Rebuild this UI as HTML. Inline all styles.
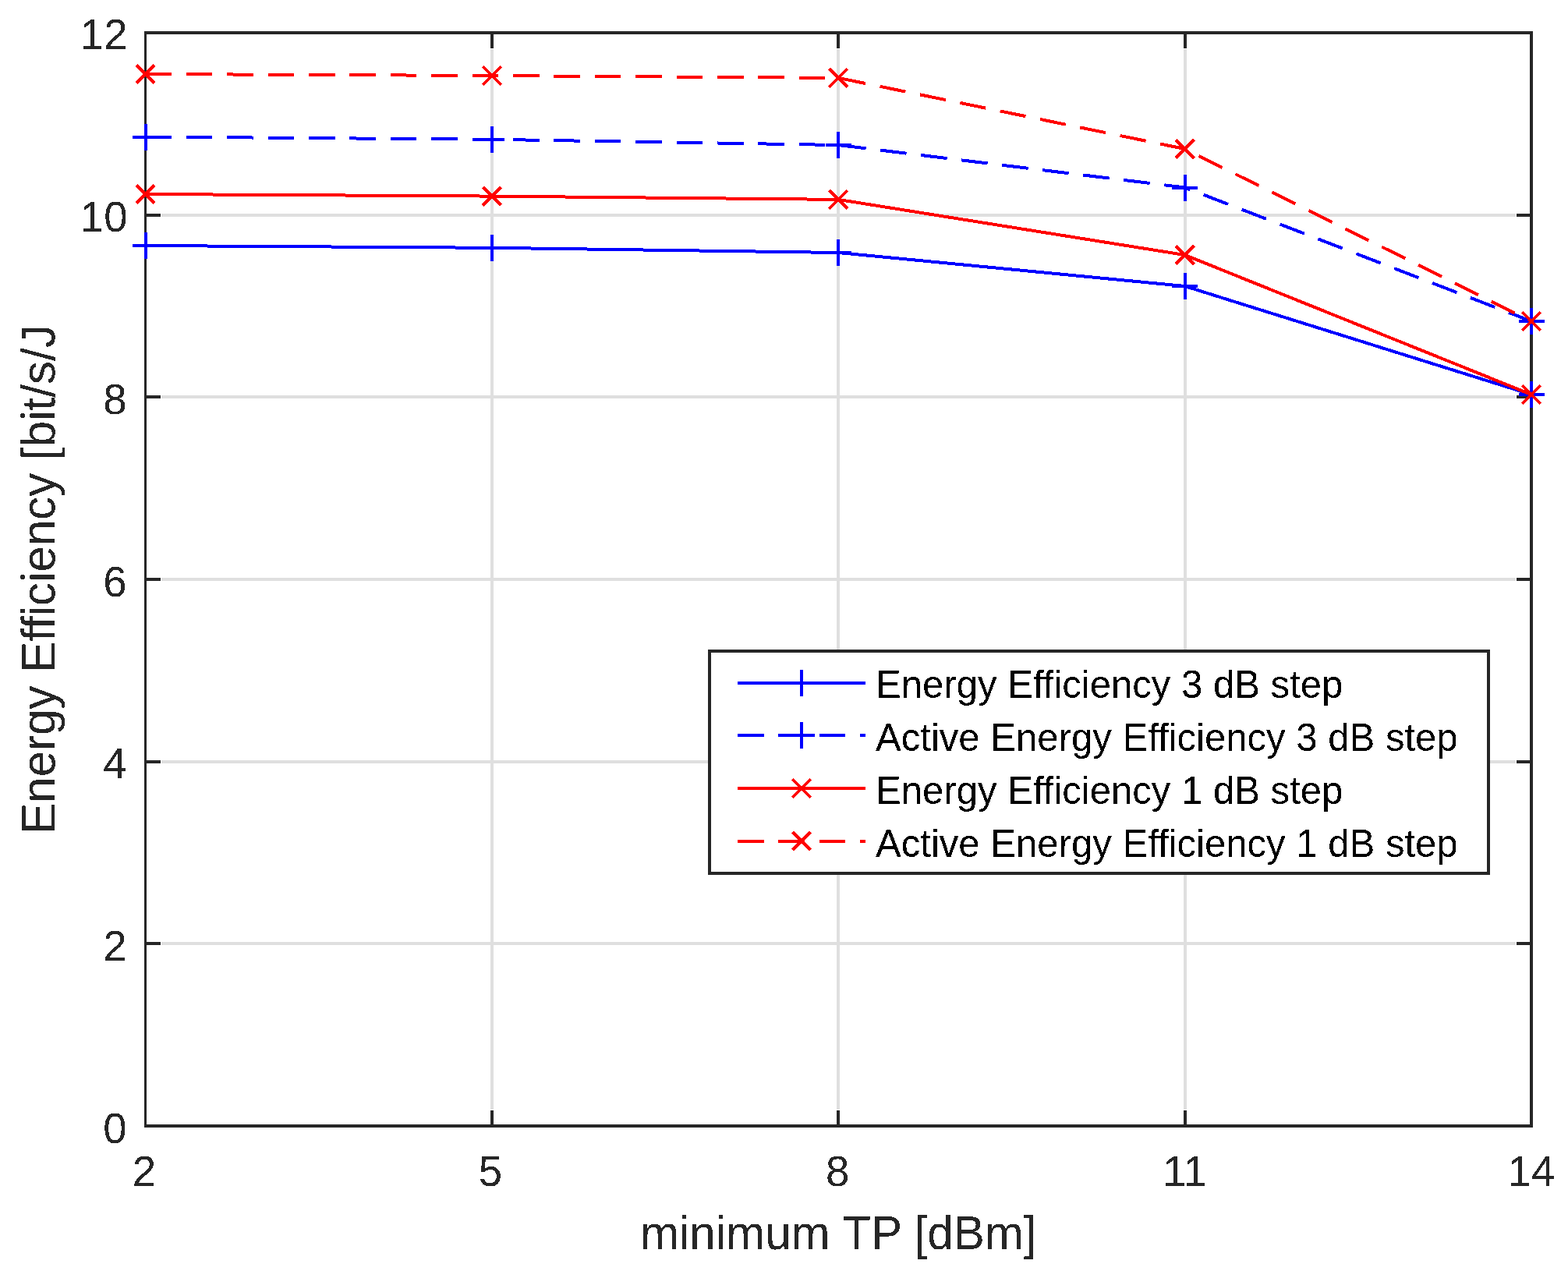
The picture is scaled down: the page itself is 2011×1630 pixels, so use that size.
<!DOCTYPE html><html><head><meta charset="utf-8"><title>Energy Efficiency vs minimum TP</title><style>html,body{margin:0;padding:0;background:#fff;overflow:hidden;}svg{display:block;}text{font-family:"Liberation Sans",Arial,Helvetica,sans-serif;}</style></head><body>
<svg xmlns="http://www.w3.org/2000/svg" width="2011" height="1630" viewBox="0 0 2011 1630">
<defs><filter id="alias" x="0" y="0" width="2011" height="1630" filterUnits="userSpaceOnUse" color-interpolation-filters="sRGB"><feComponentTransfer><feFuncA type="discrete" tableValues="0 1"/></feComponentTransfer></filter></defs>
<rect x="0" y="0" width="2011" height="1630" fill="#ffffff"/>
<path d="M630.88 63V1423M1075.25 63V1423M1519.62 63V1423M207 1210.33H1944M207 976.67H1944M207 743.00H1944M207 509.33H1944M207 275.67H1944" stroke="#dfdfdf" stroke-width="4" fill="none" shape-rendering="crispEdges"/>
<path d="M630.88 1444.0V1424.0M630.88 42.0V62.0M1075.25 1444.0V1424.0M1075.25 42.0V62.0M1519.62 1444.0V1424.0M1519.62 42.0V62.0M186.5 1210.33H206M1964.0 1210.33H1945M186.5 976.67H206M1964.0 976.67H1945M186.5 743.00H206M1964.0 743.00H1945M186.5 509.33H206M1964.0 509.33H1945M186.5 275.67H206M1964.0 275.67H1945" stroke="#262626" stroke-width="4" fill="none" shape-rendering="crispEdges"/>
<path d="M185 40h3v1406h-3zM1962 40h4v1406h-4zM185 40h1781v4h-1781zM185 1442h1781v4h-1781z" fill="#262626"/>
<polyline points="186.50,315.00 630.88,317.80 1075.25,324.00 1519.62,367.00 1964.00,506.00" stroke="#0000ff" stroke-width="4.0" fill="none" shape-rendering="crispEdges"/>
<path d="M170.00 315.00H203.00M186.50 298.00V332.00" stroke="#0000ff" stroke-width="4.0" fill="none" shape-rendering="crispEdges"/>
<path d="M614.38 317.80H647.38M630.88 300.80V334.80" stroke="#0000ff" stroke-width="4.0" fill="none" shape-rendering="crispEdges"/>
<path d="M1058.75 324.00H1091.75M1075.25 307.00V341.00" stroke="#0000ff" stroke-width="4.0" fill="none" shape-rendering="crispEdges"/>
<path d="M1503.12 367.00H1536.12M1519.62 350.00V384.00" stroke="#0000ff" stroke-width="4.0" fill="none" shape-rendering="crispEdges"/>
<path d="M1947.50 506.00H1980.50M1964.00 489.00V523.00" stroke="#0000ff" stroke-width="4.0" fill="none" shape-rendering="crispEdges"/>
<polyline points="186.50,175.50 630.88,178.80 1075.25,186.00 1519.62,240.50 1964.00,412.00" stroke="#0000ff" stroke-width="4.0" fill="none" stroke-dasharray="33.6 18.8" shape-rendering="crispEdges"/>
<path d="M170.00 175.50H203.00M186.50 158.50V192.50" stroke="#0000ff" stroke-width="4.0" fill="none" shape-rendering="crispEdges"/>
<path d="M614.38 178.80H647.38M630.88 161.80V195.80" stroke="#0000ff" stroke-width="4.0" fill="none" shape-rendering="crispEdges"/>
<path d="M1058.75 186.00H1091.75M1075.25 169.00V203.00" stroke="#0000ff" stroke-width="4.0" fill="none" shape-rendering="crispEdges"/>
<path d="M1503.12 240.50H1536.12M1519.62 223.50V257.50" stroke="#0000ff" stroke-width="4.0" fill="none" shape-rendering="crispEdges"/>
<path d="M1947.50 412.00H1980.50M1964.00 395.00V429.00" stroke="#0000ff" stroke-width="4.0" fill="none" shape-rendering="crispEdges"/>
<polyline points="186.50,249.00 630.88,251.60 1075.25,255.90 1519.62,327.00 1964.00,506.00" stroke="#ff0000" stroke-width="4.0" fill="none" shape-rendering="crispEdges"/>
<path d="M174.80 237.30L198.20 260.70M174.80 260.70L198.20 237.30" stroke="#ff0000" stroke-width="4.0" stroke-linecap="butt" fill="none" shape-rendering="crispEdges"/>
<path d="M619.17 239.90L642.58 263.30M619.17 263.30L642.58 239.90" stroke="#ff0000" stroke-width="4.0" stroke-linecap="butt" fill="none" shape-rendering="crispEdges"/>
<path d="M1063.55 244.20L1086.95 267.60M1063.55 267.60L1086.95 244.20" stroke="#ff0000" stroke-width="4.0" stroke-linecap="butt" fill="none" shape-rendering="crispEdges"/>
<path d="M1507.92 315.30L1531.33 338.70M1507.92 338.70L1531.33 315.30" stroke="#ff0000" stroke-width="4.0" stroke-linecap="butt" fill="none" shape-rendering="crispEdges"/>
<path d="M1952.30 494.30L1975.70 517.70M1952.30 517.70L1975.70 494.30" stroke="#ff0000" stroke-width="4.0" stroke-linecap="butt" fill="none" shape-rendering="crispEdges"/>
<polyline points="186.50,95.00 630.88,97.00 1075.25,99.90 1519.62,191.00 1964.00,412.00" stroke="#ff0000" stroke-width="4.0" fill="none" stroke-dasharray="33.6 18.8" shape-rendering="crispEdges"/>
<path d="M174.80 83.30L198.20 106.70M174.80 106.70L198.20 83.30" stroke="#ff0000" stroke-width="4.0" stroke-linecap="butt" fill="none" shape-rendering="crispEdges"/>
<path d="M619.17 85.30L642.58 108.70M619.17 108.70L642.58 85.30" stroke="#ff0000" stroke-width="4.0" stroke-linecap="butt" fill="none" shape-rendering="crispEdges"/>
<path d="M1063.55 88.20L1086.95 111.60M1063.55 111.60L1086.95 88.20" stroke="#ff0000" stroke-width="4.0" stroke-linecap="butt" fill="none" shape-rendering="crispEdges"/>
<path d="M1507.92 179.30L1531.33 202.70M1507.92 202.70L1531.33 179.30" stroke="#ff0000" stroke-width="4.0" stroke-linecap="butt" fill="none" shape-rendering="crispEdges"/>
<path d="M1952.30 400.30L1975.70 423.70M1952.30 423.70L1975.70 400.30" stroke="#ff0000" stroke-width="4.0" stroke-linecap="butt" fill="none" shape-rendering="crispEdges"/>
<g filter="url(#alias)">
<text x="185.00" y="0" transform="translate(0 1521) scale(1 1.0)" font-size="54.6" fill="#262626" text-anchor="middle">2</text>
<text x="628.88" y="0" transform="translate(0 1521) scale(1 1.0)" font-size="54.6" fill="#262626" text-anchor="middle">5</text>
<text x="1074.25" y="0" transform="translate(0 1521) scale(1 1.0)" font-size="54.6" fill="#262626" text-anchor="middle">8</text>
<text x="1519.62" y="0" transform="translate(0 1521) scale(1 1.0)" font-size="54.6" fill="#262626" text-anchor="middle">11</text>
<text x="1964.00" y="0" transform="translate(0 1521) scale(1 1.0)" font-size="54.6" fill="#262626" text-anchor="middle">14</text>
<text x="162.5" y="0" transform="translate(0 1465.80) scale(1 1.0)" font-size="54.6" fill="#262626" text-anchor="end">0</text>
<text x="162.5" y="0" transform="translate(0 1232.13) scale(1 1.0)" font-size="54.6" fill="#262626" text-anchor="end">2</text>
<text x="162.5" y="0" transform="translate(0 998.47) scale(1 1.0)" font-size="54.6" fill="#262626" text-anchor="end">4</text>
<text x="162.5" y="0" transform="translate(0 764.80) scale(1 1.0)" font-size="54.6" fill="#262626" text-anchor="end">6</text>
<text x="162.5" y="0" transform="translate(0 531.13) scale(1 1.0)" font-size="54.6" fill="#262626" text-anchor="end">8</text>
<text x="163.5" y="0" transform="translate(0 297.47) scale(1 1.0)" font-size="54.6" fill="#262626" text-anchor="end">10</text>
<text x="163.5" y="0" transform="translate(0 63.00) scale(1 1.0)" font-size="54.6" fill="#262626" text-anchor="end">12</text>
<text x="1075.25" y="0" transform="translate(0 1602) scale(1 1.03)" font-size="60.1" fill="#262626" text-anchor="middle">minimum TP [dBm]</text>
<text x="0" y="0" transform="translate(70 743.00) rotate(-90) scale(1 1.03)" font-size="60.1" fill="#262626" text-anchor="middle">Energy Efficiency [bit/s/J</text>
</g>
<rect x="910" y="835" width="999" height="285" fill="#ffffff" stroke="#262626" stroke-width="3.8" shape-rendering="crispEdges"/>
<path d="M946 876.0H1110" stroke="#0000ff" stroke-width="4.0" fill="none" shape-rendering="crispEdges"/>
<path d="M1011.50 876.00H1044.50M1028.00 859.00V893.00" stroke="#0000ff" stroke-width="4.0" fill="none" shape-rendering="crispEdges"/>
<path d="M946 943.0H1110" stroke="#0000ff" stroke-width="4.0" fill="none" stroke-dasharray="33.6 18.8" shape-rendering="crispEdges"/>
<path d="M1011.50 943.00H1044.50M1028.00 926.00V960.00" stroke="#0000ff" stroke-width="4.0" fill="none" shape-rendering="crispEdges"/>
<path d="M946 1011.0H1110" stroke="#ff0000" stroke-width="4.0" fill="none" shape-rendering="crispEdges"/>
<path d="M1016.30 999.30L1039.70 1022.70M1016.30 1022.70L1039.70 999.30" stroke="#ff0000" stroke-width="4.0" stroke-linecap="butt" fill="none" shape-rendering="crispEdges"/>
<path d="M946 1078.6H1110" stroke="#ff0000" stroke-width="4.0" fill="none" stroke-dasharray="33.6 18.8" shape-rendering="crispEdges"/>
<path d="M1016.30 1066.90L1039.70 1090.30M1016.30 1090.30L1039.70 1066.90" stroke="#ff0000" stroke-width="4.0" stroke-linecap="butt" fill="none" shape-rendering="crispEdges"/>
<g filter="url(#alias)">
<text x="1123" y="0" transform="translate(0 894.7) scale(1 1.03)" font-size="49.1" fill="#000000">Energy Efficiency 3 dB step</text>
<text x="1123" y="0" transform="translate(0 962.9) scale(1 1.03)" font-size="49.1" fill="#000000">Active Energy Efficiency 3 dB step</text>
<text x="1123" y="0" transform="translate(0 1031.4) scale(1 1.03)" font-size="49.1" fill="#000000">Energy Efficiency 1 dB step</text>
<text x="1123" y="0" transform="translate(0 1098.8) scale(1 1.03)" font-size="49.1" fill="#000000">Active Energy Efficiency 1 dB step</text>
</g>
</svg></body></html>
